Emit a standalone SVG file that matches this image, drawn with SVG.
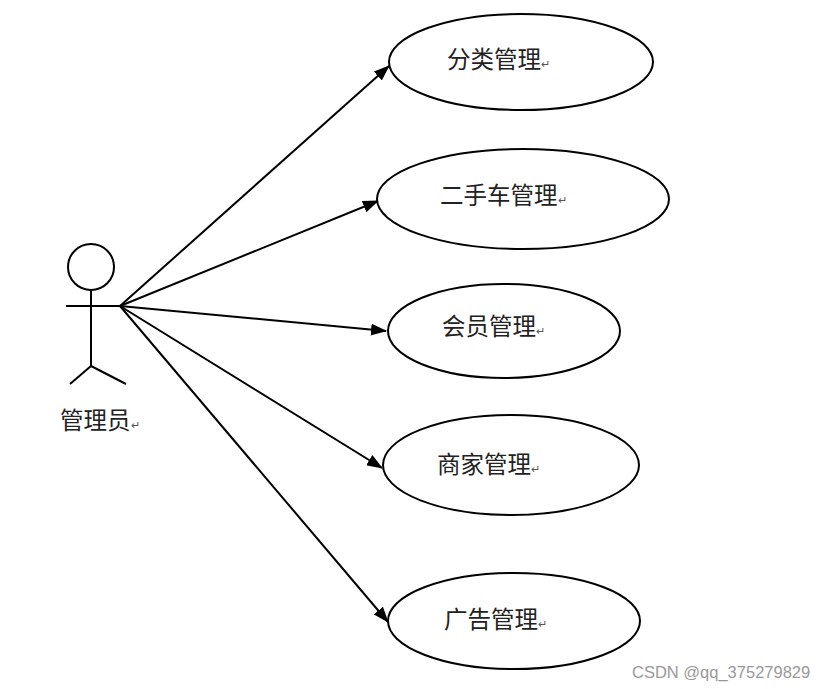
<svg xmlns="http://www.w3.org/2000/svg" width="838" height="689" viewBox="0 0 838 689">
<style>
.u{fill:#fff;stroke:#000;stroke-width:2}
.t{font-family:"Noto Sans CJK SC","Liberation Sans",sans-serif;font-size:23.5px;fill:#222}
.r{font-size:11px;fill:#555}
.c line{stroke:#000;stroke-width:2;marker-end:url(#a)}
</style>
<defs><marker id="a" markerWidth="16" markerHeight="12" refX="15" refY="6" orient="auto" markerUnits="userSpaceOnUse"><path d="M0,0L16,6L0,12z"/></marker></defs>
<rect width="838" height="689" fill="#fff"/>
<g id="actor" fill="none" stroke="#000" stroke-width="2">
<circle cx="91" cy="267" r="23"/><line x1="66" y1="306" x2="120" y2="306"/><line x1="91" y1="290" x2="91" y2="366"/><line x1="91" y1="366" x2="70" y2="384"/><line x1="91" y1="366" x2="126" y2="384"/>
</g>
<text class="t" x="60" y="429">管理员<tspan class="r">↵</tspan></text>
<g class="c">
<line x1="120" y1="306" x2="389" y2="66"/><line x1="120" y1="306" x2="378" y2="201"/><line x1="120" y1="306" x2="386" y2="331"/><line x1="120" y1="306" x2="382" y2="468"/><line x1="120" y1="306" x2="388" y2="622"/>
</g>
<g id="n1"><ellipse class="u" cx="521" cy="62" rx="132" ry="48"/><text class="t" x="447" y="68">分类管理<tspan class="r">↵</tspan></text></g>
<g id="n2"><ellipse class="u" cx="523" cy="199" rx="146" ry="50"/><text class="t" x="440" y="204">二手车管理<tspan class="r">↵</tspan></text></g>
<g id="n3"><ellipse class="u" cx="504" cy="331" rx="116" ry="47"/><text class="t" x="442" y="335">会员管理<tspan class="r">↵</tspan></text></g>
<g id="n4"><ellipse class="u" cx="511" cy="465" rx="128" ry="50"/><text class="t" x="437" y="473">商家管理<tspan class="r">↵</tspan></text></g>
<g id="n5"><ellipse class="u" cx="514" cy="621" rx="126" ry="48"/><text class="t" x="444" y="628">广告管理<tspan class="r">↵</tspan></text></g>
<text x="632" y="678" font-family="Liberation Sans,sans-serif" font-size="16.5" fill="#999">CSDN @qq_375279829</text>
</svg>
